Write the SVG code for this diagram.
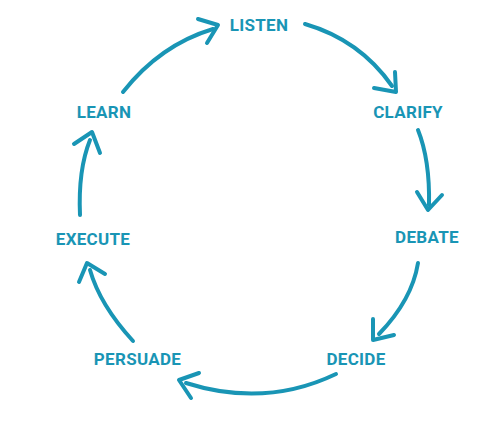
<svg xmlns="http://www.w3.org/2000/svg" width="500" height="443" viewBox="0 0 500 443">
<style>
.lbl{font-family:Roboto,"Liberation Sans",sans-serif;font-weight:700;font-size:17px;letter-spacing:0.3px;fill:#1995b5;text-anchor:middle}
.c{fill:none;stroke:#1995b5;stroke-width:4;stroke-linecap:round;stroke-linejoin:round}
</style>
<rect width="500" height="443" fill="#ffffff"/>
<g id="connectors">
<path class="c" d="M123,92 Q160,45 213,29"/>
<polyline class="c" points="198,19 218,25 207,43"/>
<path class="c" d="M305,24 Q360,40 392,86"/>
<polyline class="c" points="374,88 396,92 395,72"/>
<path class="c" d="M418,130 Q430,160 429,205"/>
<polyline class="c" points="417,192 428,210 442,195"/>
<path class="c" d="M418,263 Q412,300 379,334"/>
<polyline class="c" points="373,319 373,340 394,335"/>
<path class="c" d="M336,374 Q265,408 186,383"/>
<polyline class="c" points="199,373 179,380 191,398"/>
<path class="c" d="M133,341 Q100,305 90,270"/>
<polyline class="c" points="79,282 87,263 105,274"/>
<path class="c" d="M80,215 Q78,170 90,140"/>
<polyline class="c" points="74,144 92,132 100,153"/>
</g>
<g id="listen"><text class="lbl" x="259" y="30.5">LISTEN</text></g>
<g id="clarify"><text class="lbl" x="408" y="118">CLARIFY</text></g>
<g id="debate"><text class="lbl" x="427" y="243">DEBATE</text></g>
<g id="decide"><text class="lbl" x="356" y="365">DECIDE</text></g>
<g id="persuade"><text class="lbl" x="137.5" y="365">PERSUADE</text></g>
<g id="execute"><text class="lbl" x="93" y="245">EXECUTE</text></g>
<g id="learn"><text class="lbl" x="104" y="118">LEARN</text></g>
</svg>
